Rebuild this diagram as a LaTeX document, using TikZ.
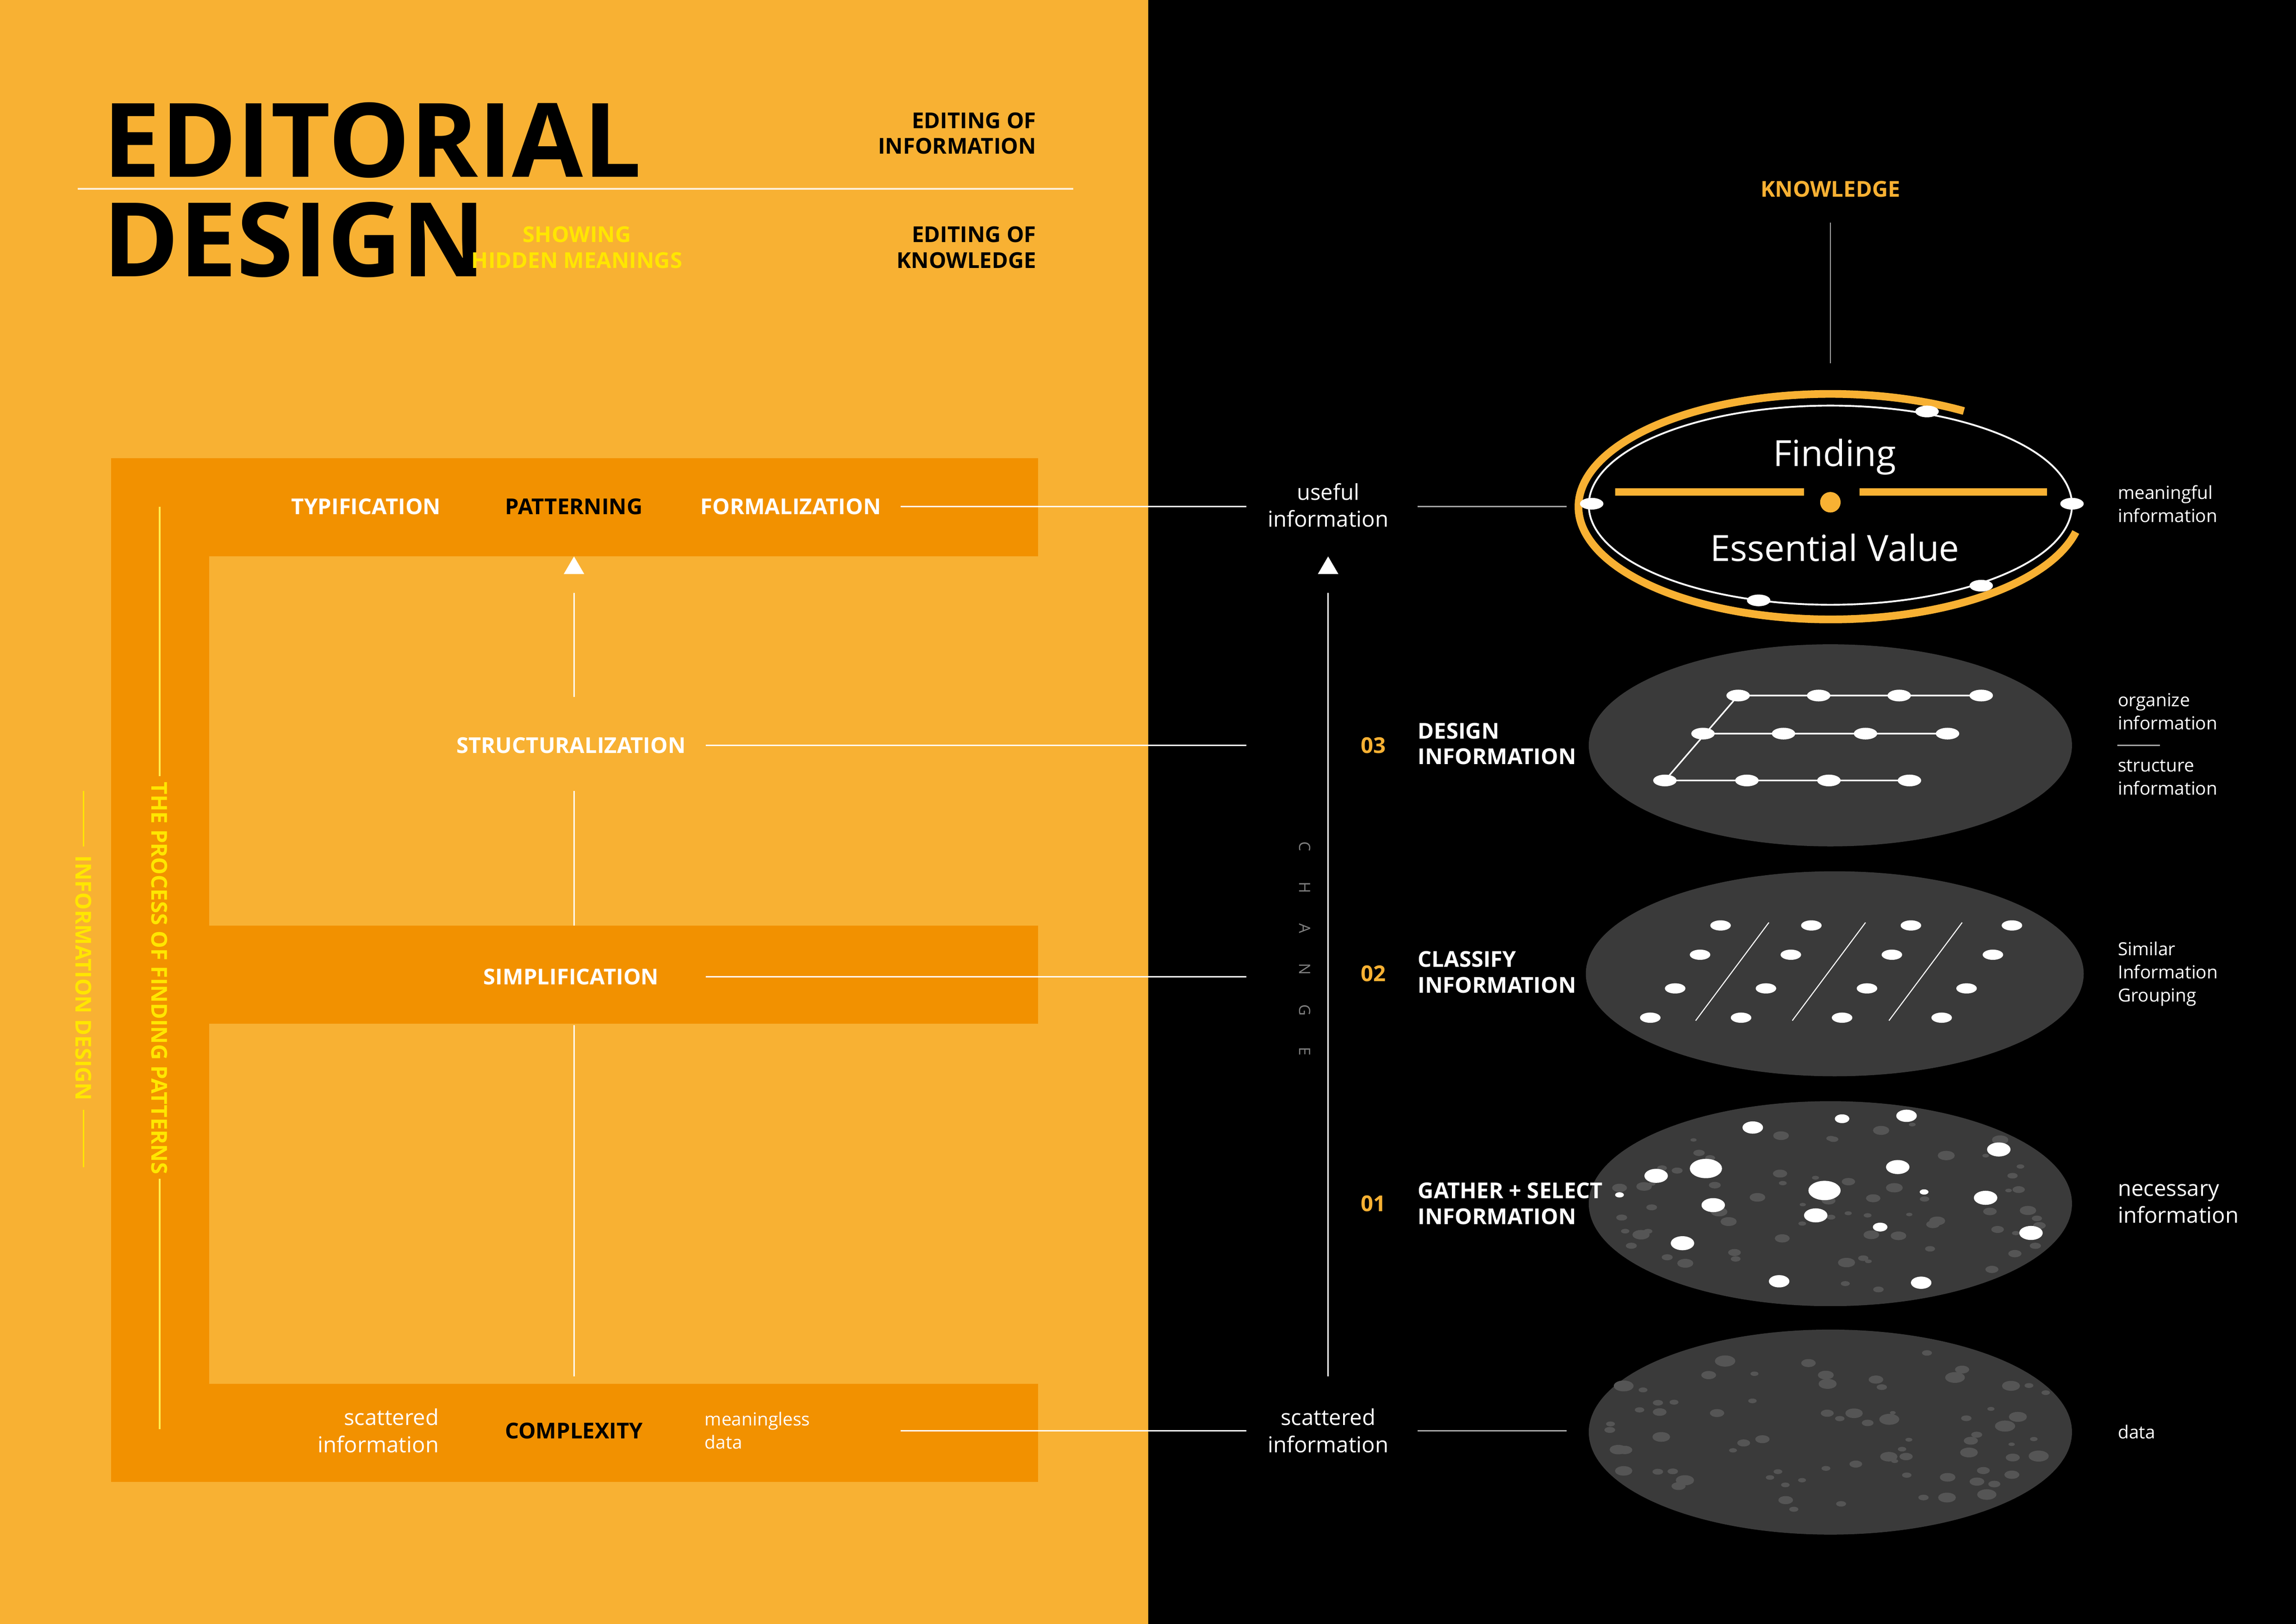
\documentclass[tikz,border=0pt]{standalone}
\usepackage{fontspec}
\setmainfont{Open Sans}
\begin{document}
\begin{tikzpicture}[x=0.02cm,y=-0.02cm,
  lbl/.style={font=\fontsize{8.5}{10}\selectfont\bfseries,inner sep=0pt,align=center},
  sml/.style={font=\fontsize{7}{9}\selectfont,inner sep=0pt,align=left,anchor=west,white},
  wl/.style={white,line width=0.6pt},
  gl/.style={gray!70,line width=0.5pt},
  disk/.style={fill=dg},
  wdot/.style={fill=white}]
\definecolor{lo}{HTML}{F8B133}\definecolor{do}{HTML}{F29100}
\definecolor{yl}{HTML}{FFE600}\definecolor{dg}{HTML}{3A3A3A}\definecolor{mg}{HTML}{555555}
\fill[lo] (0,0) rectangle (784,1109);
\fill[black] (784,0) rectangle (1568,1109);
\useasboundingbox (0,0) rectangle (1568,1109);
% title
\node[anchor=south west,inner sep=0pt,font=\fontsize{40}{40}\selectfont\bfseries] (t1) at (70,122) {EDITORIAL};
\node[anchor=south west,inner sep=0pt,font=\fontsize{40}{40}\selectfont\bfseries] (t2) at (70,190) {DESIGN};
\draw[white!80!lo,line width=0.8pt] (53,129) -- (733,129);
\node[lbl,align=right,anchor=east] (e1) at (708,91) {EDITING OF\\INFORMATION};
\node[lbl,align=right,anchor=east] (e2) at (708,169) {EDITING OF\\KNOWLEDGE};
\node[lbl,text=yl] (sh) at (394,169) {SHOWING\\HIDDEN MEANINGS};
% E shape
\fill[do] (76,313) rectangle (143,1012);
\fill[do] (76,313) rectangle (709,380);
\fill[do] (76,632) rectangle (709,699);
\fill[do] (76,945) rectangle (709,1012);
\draw[yl!70!white,line width=0.6pt] (109,346) -- (109,530) (109,805) -- (109,976);
\node[lbl,text=yl,rotate=-90] (pf) at (109,668) {THE PROCESS OF FINDING PATTERNS};
\node[lbl,text=yl,rotate=-90] (id) at (57,668) {INFORMATION DESIGN};
\draw[yl,line width=0.6pt] (57,540) -- (57,578) (57,758) -- (57,797);
% top bar
\node[lbl,white] (ty) at (250,346) {TYPIFICATION};
\node[lbl] (pa) at (392,346) {PATTERNING};
\node[lbl,white] (fo) at (540,346) {FORMALIZATION};
\node[lbl,white] (st) at (390,509) {STRUCTURALIZATION};
\node[lbl,white] (si) at (390,667) {SIMPLIFICATION};
\node[lbl] (co) at (392,977) {COMPLEXITY};
\node[font=\fontsize{8.5}{10.5}\selectfont,white,align=right,anchor=east,inner sep=0pt] (sc) at (300,977) {scattered\\information};
\node[sml] (md) at (481,977) {meaningless\\data};
\fill[white] (392,380) -- (399,392) -- (385,392) -- cycle;
\draw[wl] (392,405) -- (392,476) (392,540) -- (392,632) (392,700) -- (392,940);
% right connectors
\node[font=\fontsize{8.5}{10.5}\selectfont,white,align=center,inner sep=0pt] (ui) at (907,345) {useful\\information};
\node[font=\fontsize{8.5}{10.5}\selectfont,white,align=center,inner sep=0pt] (si2) at (907,977) {scattered\\information};
\draw[wl] (615,346) -- (851,346);
\draw[wl] (482,509) -- (851,509);
\draw[wl] (482,667) -- (851,667);
\draw[wl] (615,977) -- (851,977);
\draw[gl] (968,346) -- (1070,346) (968,977) -- (1070,977);
\fill[white] (907,380) -- (914,392) -- (900,392) -- cycle;
\draw[wl] (907,405) -- (907,940);
\foreach \c [count=\i] in {C,H,A,N,G,E} \node[font=\fontsize{6}{6}\selectfont,gray,inner sep=0pt,rotate=-90] at (891,550+\i*28) {\c};
% knowledge
\node[lbl,text=lo] (kn) at (1250,129) {KNOWLEDGE};
\draw[gl] (1250,152) -- (1250,248);
\draw[lo,line width=3pt] (1250,346) ++(13:172 and 77) arc[start angle=13,end angle=302,x radius=172,y radius=77];
\draw[white,line width=0.7pt] (1250,345) ellipse[x radius=165,y radius=68];
\draw[lo,line width=3pt] (1103,336) -- (1232,336) (1270,336) -- (1398,336);
\fill[lo] (1250,343) circle (7);
\node[white,font=\fontsize{14}{14}\selectfont,inner sep=0pt] (fi) at (1253,312) {Finding};
\node[white,font=\fontsize{14}{14}\selectfont,inner sep=0pt] (ev) at (1253,374) {Essential Value};
\foreach \p in {(1087,344),(1316,281),(1415,344),(1353,400),(1201,410)} \fill[white] \p ellipse[x radius=8,y radius=4];
\node[sml] (mi) at (1446,344) {meaningful\\information};
% disk 3
\fill[dg] (1250,509) ellipse[x radius=165,y radius=69];
\draw[wl] (1187,475) -- (1353,475) (1163,501) -- (1330,501) (1137,533) -- (1304,533) (1187,475) -- (1137,533);
\foreach \x/\y in {1187/475,1242/475,1297/475,1353/475,1163/501,1218/501,1274/501,1330/501,1137/533,1193/533,1249/533,1304/533} \fill[white] (\x,\y) ellipse[x radius=8,y radius=4];
\node[lbl,text=lo] (n3) at (938,509) {03};
\node[lbl,white,align=left,anchor=west] (d3) at (968,508) {DESIGN\\INFORMATION};
\node[sml] (oi) at (1446,486) {organize\\information};
\draw[gl] (1446,509) -- (1475,509);
\node[sml] (si3) at (1446,531) {structure\\information};
% disk 2
\fill[dg] (1253,665) ellipse[x radius=170,y radius=70];
\draw[white,line width=0.4pt] (1158,697) -- (1208,630) (1224,697) -- (1274,630) (1290,697) -- (1340,630);
\foreach \x/\y in {1175/632,1237/632,1305/632,1374/632,1161/652,1223/652,1292/652,1361/652,1144/675,1206/675,1275/675,1343/675,1127/695,1189/695,1258/695,1326/695} \fill[white] (\x,\y) ellipse[x radius=7,y radius=3.5];
\node[lbl,text=lo] (n2) at (938,665) {02};
\node[lbl,white,align=left,anchor=west] (d2) at (968,664) {CLASSIFY\\INFORMATION};
\node[sml] (sg) at (1446,665) {Similar\\Information\\Grouping};
% disk 1 and 0
\fill[dg] (1250,822) ellipse[x radius=165,y radius=70];
\fill[dg] (1250,978) ellipse[x radius=165,y radius=70];
\pgfmathsetseed{7}
\foreach \k in {1,...,70} {
  \pgfmathsetmacro{\ax}{rand*0.92}
  \pgfmathsetmacro{\ay}{rand*0.88*sqrt(1-\ax*\ax)}
  \pgfmathsetmacro{\r}{2+4*rnd}
  \fill[mg] (1250+165*\ax,822+70*\ay) ellipse[x radius=\r,y radius=0.55*\r];
}
\pgfmathsetseed{11}
\foreach \k in {1,...,75} {
  \pgfmathsetmacro{\ax}{rand*0.92}
  \pgfmathsetmacro{\ay}{rand*0.88*sqrt(1-\ax*\ax)}
  \pgfmathsetmacro{\r}{2+5*rnd}
  \fill[mg] (1250+165*\ax,978+70*\ay) ellipse[x radius=\r,y radius=0.55*\r];
}
\foreach \x/\y/\r in {1197/770/7,1258/764/5,1302/762/7,1365/785/8,1131/803/8,1165/798/11,1246/813/11,1296/797/8,1170/823/8,1240/830/8,1356/818/8,1387/842/8,1149/849/8,1284/838/5,1215/875/7,1312/876/7,1106/816/3,1314/814/3} \fill[white] (\x,\y) ellipse[x radius=\r,y radius=0.6*\r];
\node[lbl,text=lo] (n1) at (938,822) {01};
\node[lbl,white,align=left,anchor=west] (d1) at (968,822) {GATHER + SELECT\\INFORMATION};
\node[font=\fontsize{8.5}{10.5}\selectfont,white,align=left,anchor=west,inner sep=0pt] (ni) at (1446,822) {necessary\\information};
\node[sml] (da) at (1446,978) {data};
\end{tikzpicture}
\end{document}
